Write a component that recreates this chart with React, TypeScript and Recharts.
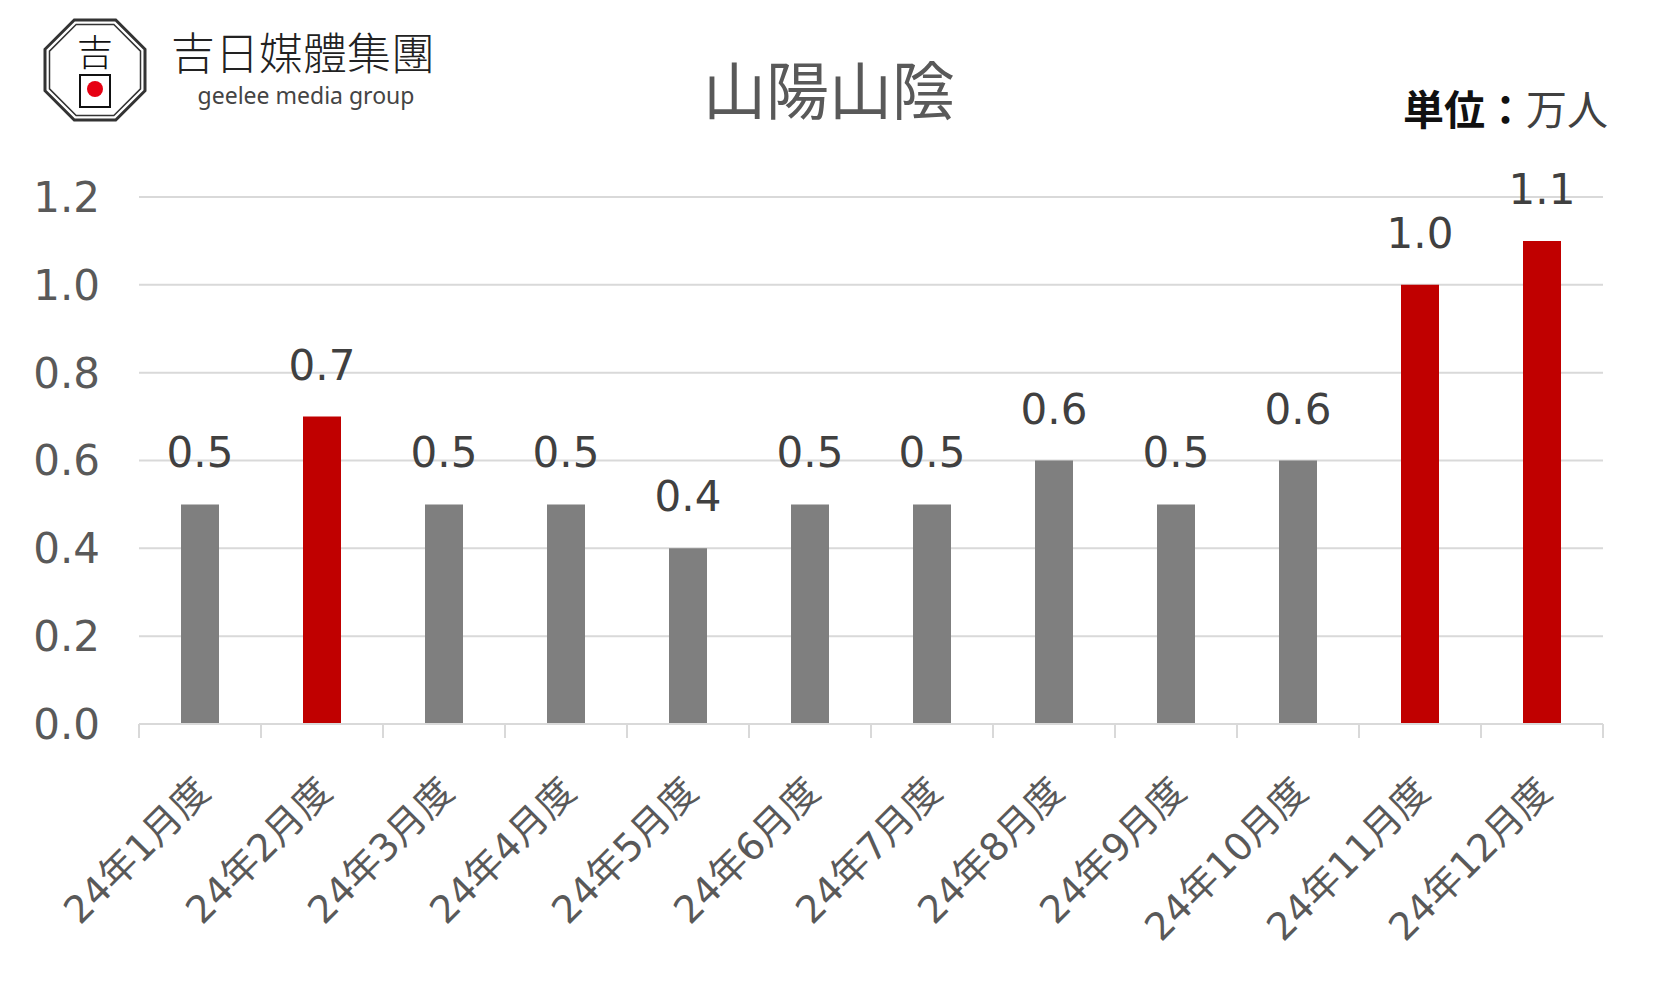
import React from 'react';
import { BarChart, Bar, XAxis, YAxis, CartesianGrid, Cell, LabelList } from 'recharts';

const categories = [
  '24年1月度', '24年2月度', '24年3月度', '24年4月度', '24年5月度', '24年6月度',
  '24年7月度', '24年8月度', '24年9月度', '24年10月度', '24年11月度', '24年12月度',
];
const values = [0.5, 0.7, 0.5, 0.5, 0.4, 0.5, 0.5, 0.6, 0.5, 0.6, 1.0, 1.1];
const barColors = [
  '#7f7f7f', '#c00000', '#7f7f7f', '#7f7f7f', '#7f7f7f', '#7f7f7f',
  '#7f7f7f', '#7f7f7f', '#7f7f7f', '#7f7f7f', '#c00000', '#c00000',
];
const yTicks = [0, 0.2, 0.4, 0.6, 0.8, 1.0, 1.2];
const titleText = '山陽山陰';
const unitMain = '単位：';
const unitSub = '万人';
const logoChar = '吉';
const logoName = '吉日媒體集團';
const logoSub = 'geelee media group';

const data = categories.map((name, i) => ({ name, value: values[i] }));

const W = 1654;
const H = 994;
const M = { top: 197, right: 51, bottom: 0, left: 0 };
const Y_W = 139;
const BAND = (W - Y_W - M.right) / categories.length;

const NUM_FONT = "Verdana, 'DejaVu Sans', 'Noto Sans CJK JP', sans-serif";
const CJK_FONT = "'Noto Sans CJK JP', 'Noto Sans CJK SC', sans-serif";

const XTick = (props: any) => {
  const { x, y, payload, index } = props;
  const half = BAND / 2;
  const tx = x + 12;
  const ty = y + 70;
  const isLast = index === categories.length - 1 || payload.value === categories[categories.length - 1];
  return (
    <g>
      <line x1={x - half} y1={y} x2={x - half} y2={y + 14} stroke="#d9d9d9" strokeWidth={2} />
      {isLast && <line x1={x + half} y1={y} x2={x + half} y2={y + 14} stroke="#d9d9d9" strokeWidth={2} />}
      <text
        x={tx}
        y={ty}
        transform={`rotate(-45, ${tx}, ${ty})`}
        textAnchor="end"
        fill="#595959"
        fontSize={38}
        fontFamily={NUM_FONT}
      >
        {payload.value}
      </text>
    </g>
  );
};

const octagon = (cx: number, cy: number, apothem: number) => {
  const r = apothem / Math.cos(Math.PI / 8);
  const pts: string[] = [];
  for (let i = 0; i < 8; i++) {
    const a = Math.PI / 8 + (i * Math.PI) / 4;
    pts.push(`${cx + r * Math.cos(a)},${cy + r * Math.sin(a)}`);
  }
  return pts.join(' ');
};

export default function App() {
  return (
    <div style={{ position: 'absolute', left: 0, top: 0, width: W, height: H, background: '#ffffff' }}>
      <BarChart width={W} height={H} data={data} margin={M} barSize={38}>
        <CartesianGrid vertical={false} stroke="#d9d9d9" strokeWidth={2} />
        <XAxis
          dataKey="name"
          height={270}
          interval={0}
          axisLine={{ stroke: '#d9d9d9', strokeWidth: 2 }}
          tickLine={false}
          tickSize={0}
          tickMargin={0}
          tick={<XTick />}
        />
        <YAxis
          width={Y_W}
          domain={[0, 1.2]}
          ticks={yTicks}
          interval={0}
          axisLine={false}
          tickLine={false}
          tickSize={0}
          tickMargin={39}
          tickFormatter={(v: number) => v.toFixed(1)}
          tick={{ fill: '#595959', fontSize: 42, fontFamily: NUM_FONT }}
        />
        <Bar dataKey="value" isAnimationActive={false}>
          {data.map((d, i) => (
            <Cell key={d.name} fill={barColors[i]} />
          ))}
          <LabelList
            dataKey="value"
            position="top"
            offset={37}
            fill="#404040"
            fontSize={42}
            fontFamily={NUM_FONT}
            formatter={(v: any) => Number(v).toFixed(1)}
          />
        </Bar>
      </BarChart>
      <svg
        width={W}
        height={H}
        style={{ position: 'absolute', left: 0, top: 0, pointerEvents: 'none' }}
      >
        <polygon points={octagon(95, 70, 50)} fill="none" stroke="#333" strokeWidth={3} />
        <polygon points={octagon(95, 70, 45.5)} fill="none" stroke="#333" strokeWidth={1.5} />
        <text x={95} y={66} textAnchor="middle" fontSize={36} fontFamily={CJK_FONT} fill="#111" fontWeight={300}>
          {logoChar}
        </text>
        <rect x={80} y={75} width={30} height={32} fill="none" stroke="#111" strokeWidth={2} />
        <circle cx={95} cy={89} r={8} fill="#e60012" />
        <text x={171} y={70} fontSize={44} fontFamily="'Noto Sans CJK TC', 'Noto Sans CJK JP', sans-serif" fill="#222" fontWeight={300}>
          {logoName}
        </text>
        <text x={306} y={104} textAnchor="middle" fontSize={23} fontFamily="'Noto Sans', 'Open Sans', sans-serif" fill="#444">
          {logoSub}
        </text>
        <text x={829} y={114} textAnchor="middle" fontSize={63} fontFamily={CJK_FONT} fill="#595959">
          {titleText}
        </text>
        <text x={1608} y={125} textAnchor="end" fontSize={41} fontFamily={CJK_FONT}>
          <tspan fill="#111" fontWeight={700}>{unitMain}</tspan>
          <tspan fill="#404040">{unitSub}</tspan>
        </text>
      </svg>
    </div>
  );
}
